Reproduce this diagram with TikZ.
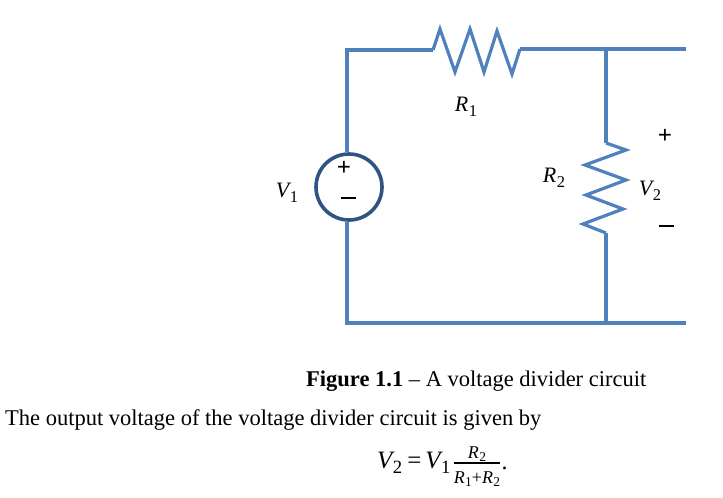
\documentclass[tikz,border=0pt]{standalone}
\usepackage{fontspec}
\setmainfont{Liberation Serif}
\definecolor{wireblue}{RGB}{79,129,189}
\definecolor{ringblue}{RGB}{48,84,130}
\newcommand{\mv}[3]{{\fontsize{#3}{#3}\selectfont\itshape #1\kern0.02em\raisebox{-0.22em}{\fontsize{0.75\dimexpr#3\relax}{#3}\selectfont\upshape #2}}}
\tikzset{
  wire/.style={draw=wireblue,line width=4.4pt,line cap=butt,line join=miter},
  zig/.style={draw=wireblue,line width=3.2pt,line join=miter},
  ring/.style={circle,draw=ringblue,line width=3.6pt,fill=white,minimum size=66pt,inner sep=0pt},
  lab/.style={inner sep=0pt},
  sign/.style={inner sep=0pt,font=\fontsize{25pt}{25pt}\selectfont\bfseries},
  eqpart/.style={inner sep=0pt,anchor=base},
  body/.style={inner sep=0pt,anchor=base west,font=\fontsize{22.5pt}{25pt}\selectfont}
}
\begin{document}
\begin{tikzpicture}[x=1pt,y=-1pt]
\useasboundingbox (0,0) rectangle (723,498);
\fill[white] (0,0) rectangle (723,498);
\coordinate (tl) at (347,50);
\coordinate (r1a) at (433,50);
\coordinate (r1b) at (520,49);
\coordinate (tj) at (606,49);
\coordinate (tr) at (686,49);
\coordinate (r2a) at (606,143);
\coordinate (r2b) at (606,233);
\coordinate (bj) at (606,323);
\coordinate (bl) at (347,323);
\coordinate (br) at (686,323);
\node[ring] (src) at (349,187) {};
\draw[wire] (tl |- src.north) -- (tl) -- (r1a);
\draw[wire] (r1b) -- (tr);
\draw[wire] (tj) -- (r2a);
\draw[wire] (r2b) -- (bj);
\draw[wire] (bl |- src.south) -- (bl) -- (br);
\draw[zig] (r1a) -- (440,29) -- (455,72) -- (470,29) -- (484,72) -- (497,31) -- (512,74) -- (r1b);
\draw[zig] (r2a) -- (626,150) -- (585,165) -- (626,180) -- (586,195) -- (623,209) -- (583,224) -- (r2b);
\node[lab] (lr1) at (466,107) {\mv{R}{1}{22pt}};
\node[lab] (lr2) at (554,178) {\mv{R}{2}{22pt}};
\node[lab] (lv1) at (287,193) {\mv{V}{1}{22pt}};
\node[lab] (lv2) at (650,191) {\mv{V}{2}{22pt}};
\node[sign] (sp1) at (344,168) {+};
\node[sign] (sm1) at (348,200) {\rule[4pt]{15pt}{1.2pt}};
\node[sign] (sp2) at (665,136) {+};
\node[sign] (sm2) at (666,228) {\rule[4pt]{15pt}{1.2pt}};
\node[body] (cap) at (306,386) {\textbf{Figure 1.1} -- A voltage divider circuit};
\node[body] (para) at (5,425) {The output voltage of the voltage divider circuit is given by};
\node[eqpart,anchor=base west] (eq) at (377,468)
  {\mv{V}{2}{25pt}\hspace{5pt}{\fontsize{25pt}{25pt}\selectfont =}\hspace{4pt}\mv{V}{1}{25pt}};
\node[eqpart] (num) at (477,458) {\mv{R}{2}{18pt}};
\node[eqpart] (den) at (477,483) {\mv{R}{1}{18pt}{\fontsize{18pt}{18pt}\selectfont +}\mv{R}{2}{18pt}};
\draw[line width=1.3pt] (den.west |- 0,463) -- (den.east |- 0,463);
\node[eqpart,anchor=base west,font=\fontsize{24pt}{24pt}\selectfont] (dot) at (den.east |- 0,469) {\kern1pt.};
\end{tikzpicture}
\end{document}
